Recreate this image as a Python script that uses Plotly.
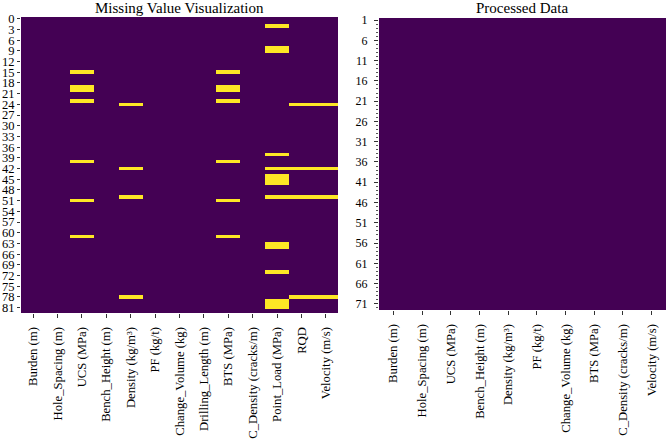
import numpy as np
import plotly.graph_objects as go

# ---------------- data ----------------
cols_left = ["Burden (m)", "Hole_Spacing (m)", "UCS (MPa)", "Bench_Height (m)",
             "Density (kg/m³)", "PF (kg/t)", "Change_Volume (kg)", "Drilling_Length (m)",
             "BTS (MPa)", "C_Density (cracks/m)", "Point_Load (MPa)", "RQD", "Velocity (m/s)"]
n_rows_left = 83
rows_left = list(range(n_rows_left))

missing_ucs = [15, 19, 20, 23, 40, 51, 61]
missing_bts = [15, 19, 20, 23, 40, 51, 61]
missing_density = [24, 42, 50, 78]
missing_point_load = [2, 8, 9, 38, 42, 44, 45, 46, 50, 63, 64, 71, 79, 80, 81]
missing_rqd = [24, 42, 50, 78]
missing_velocity = [24, 42, 50, 78]

cols_right = ["Burden (m)", "Hole_Spacing (m)", "UCS (MPa)", "Bench_Height (m)",
              "Density (kg/m³)", "PF (kg/t)", "Change_Volume (kg)", "BTS (MPa)",
              "C_Density (cracks/m)", "Velocity (m/s)"]
rows_right = list(range(1, 73))

# ---------------- matrices ----------------
missing_map = {
    "UCS (MPa)": missing_ucs,
    "BTS (MPa)": missing_bts,
    "Density (kg/m³)": missing_density,
    "Point_Load (MPa)": missing_point_load,
    "RQD": missing_rqd,
    "Velocity (m/s)": missing_velocity,
}
z_left = np.zeros((n_rows_left, len(cols_left)))
for name, rws in missing_map.items():
    z_left[rws, cols_left.index(name)] = 1
z_right = np.zeros((len(rows_right), len(cols_right)))

cscale = [[0, "#440154"], [1, "#fde725"]]
FONT = "Liberation Serif"

fig = go.Figure()
fig.add_trace(go.Heatmap(z=z_left, x=cols_left, y=rows_left, colorscale=cscale,
                         zmin=0, zmax=1, showscale=False, xaxis="x", yaxis="y"))
fig.add_trace(go.Heatmap(z=z_right, x=cols_right, y=rows_right, colorscale=cscale,
                         zmin=0, zmax=1, showscale=False, xaxis="x2", yaxis="y2"))

W, H = 667, 439
def fx(p): return p / W
def fy(p): return 1 - p / H

xtickfont = dict(family=FONT, size=12.7, color="black")
fig.update_layout(
    width=W, height=H,
    margin=dict(l=0, r=0, t=0, b=0),
    paper_bgcolor="white", plot_bgcolor="white",
    font=dict(family=FONT, color="black"),
    xaxis=dict(domain=[fx(21), fx(338)], anchor="y", tickangle=-90, ticks="outside",
               ticklen=4, tickcolor="#333", tickfont=xtickfont, ticklabelstandoff=4,
               showgrid=False, zeroline=False, automargin=False),
    yaxis=dict(domain=[fy(313), fy(17)], anchor="x", range=[n_rows_left - 0.5, -0.5],
               tickmode="array", tickvals=rows_left[::3], ticks="outside", ticklen=3,
               tickcolor="#333", tickfont=dict(family=FONT, size=12.5, color="black"),
               showgrid=False, zeroline=False, automargin=False),
    xaxis2=dict(domain=[fx(379), fx(666)], anchor="y2", tickangle=-90, ticks="outside",
                ticklen=4, tickcolor="#333", tickfont=xtickfont, ticklabelstandoff=4,
                showgrid=False, zeroline=False, automargin=False),
    yaxis2=dict(domain=[fy(310), fy(18)], anchor="x2", range=[72.5, 0.5],
                tickmode="linear", tick0=1, dtick=5, ticks="outside", ticklen=4,
                tickcolor="#333", tickfont=dict(family=FONT, size=12, color="black"),
                ticklabelstandoff=4,
                minor=dict(tickmode="linear", tick0=1, dtick=1, ticks="outside",
                           ticklen=2, tickcolor="#555"),
                showgrid=False, zeroline=False, automargin=False),
    annotations=[
        dict(text="Missing Value Visualization", x=fx(179.5), y=fy(8), xref="paper",
             yref="paper", xanchor="center", yanchor="middle", showarrow=False,
             font=dict(family=FONT, size=15, color="black")),
        dict(text="Processed Data", x=fx(522), y=fy(8), xref="paper",
             yref="paper", xanchor="center", yanchor="middle", showarrow=False,
             font=dict(family=FONT, size=15, color="black")),
    ],
)

fig.write_html("out.html", config={"displayModeBar": False},
               post_script="document.body.style.margin='0px';document.body.style.overflow='hidden';")
